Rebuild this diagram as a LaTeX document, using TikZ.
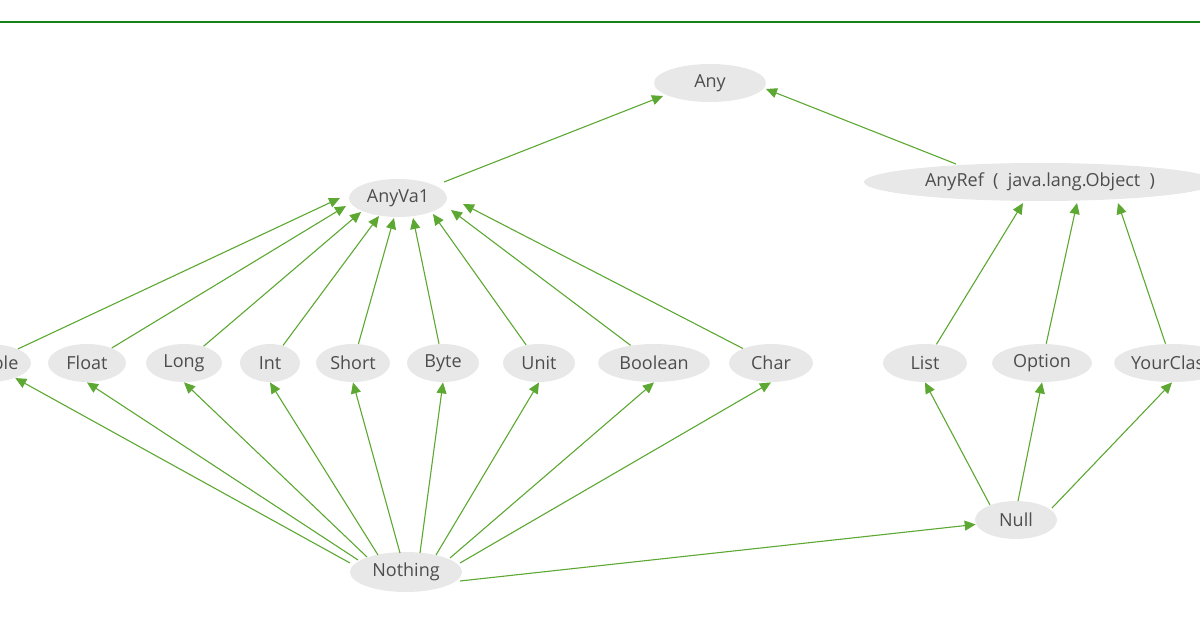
\documentclass[tikz,border=0pt]{standalone}
\usepackage{fontspec}
\setmainfont{Open Sans}
\usetikzlibrary{shapes.geometric,arrows.meta}
\definecolor{edge}{RGB}{92,168,50}
\definecolor{nfill}{RGB}{232,232,232}
\definecolor{ntext}{RGB}{77,77,77}
\definecolor{topline}{RGB}{20,130,20}
\begin{document}
\begin{tikzpicture}[x=0.5pt,y=-0.5pt,
  tnode/.style={ellipse,fill=nfill,draw=none,text=ntext,inner sep=0pt,minimum height=19pt,font=\fontsize{9}{10}\selectfont},
  arr/.style={draw=edge,line width=0.55pt,-{Triangle[length=5.5pt,width=5pt]}}]
\useasboundingbox (0,0) rectangle (1200,630);
\clip (0,0) rectangle (1200,630);
\draw[topline,line width=0.7pt] (0,22) -- (1200,22);
\node[tnode,minimum width=56pt] (any) at (710,83) {Any};
\node[tnode,minimum width=49pt] (anyval) at (398,198) {AnyVa1};
\node[tnode,minimum width=176pt] (anyref) at (1040,182) {AnyRef\ \ (\ \ java.lang.Object\ \ )};
\node[tnode,minimum width=42pt] (double) at (-12,363) {Double};
\node[tnode,minimum width=39pt] (float) at (87,363) {Float};
\node[tnode,minimum width=38pt] (long) at (184,363) {Long};
\node[tnode,minimum width=30pt] (int) at (270,363) {Int};
\node[tnode,minimum width=37pt] (short) at (353,363) {Short};
\node[tnode,minimum width=36pt] (byte) at (443,363) {Byte};
\node[tnode,minimum width=36pt] (unit) at (539,363) {Unit};
\node[tnode,minimum width=56pt] (boolean) at (654,363) {Boolean};
\node[tnode,minimum width=42pt] (char) at (771,363) {Char};
\node[tnode,minimum width=42pt] (list) at (925,363) {List};
\node[tnode,minimum width=50pt] (option) at (1042,363) {Option};
\node[tnode,minimum width=58pt] (yourclass) at (1172,363) {YourClass};
\node[tnode,minimum width=56pt,minimum height=20pt] (nothing) at (406,572) {Nothing};
\node[tnode,minimum width=41pt] (null) at (1016,520) {Null};
% arrow end points on the targets
\coordinate (aA) at (663,96); \coordinate (aB) at (766,89);
\coordinate (v1) at (340,198); \coordinate (v2) at (346,206); \coordinate (v3) at (361,212);
\coordinate (v4) at (379,216); \coordinate (v5) at (394,218); \coordinate (v6) at (413,218);
\coordinate (v7) at (433,214); \coordinate (v8) at (451,210); \coordinate (v9) at (463,204);
\coordinate (r1) at (1023,203); \coordinate (r2) at (1077,203); \coordinate (r3) at (1118,203);
% start points
\coordinate (sV) at (444,182); \coordinate (sR) at (956,164);
\coordinate (n1) at (350,563); \coordinate (n2) at (358,560); \coordinate (n3) at (367,557);
\coordinate (n4) at (378,555); \coordinate (n5) at (400,553); \coordinate (n6) at (420,553);
\coordinate (n7) at (436,555); \coordinate (n8) at (450,558); \coordinate (n9) at (460,563);
\coordinate (nN) at (460,581);
\coordinate (u1) at (990,505); \coordinate (u2) at (1018,501); \coordinate (u3) at (1052,508);
\draw[arr] (sV) -- (aA);
\draw[arr] (sR) -- (aB);
\draw[arr] (double) -- (v1);
\draw[arr] (float) -- (v2);
\draw[arr] (long) -- (v3);
\draw[arr] (int) -- (v4);
\draw[arr] (short) -- (v5);
\draw[arr] (byte) -- (v6);
\draw[arr] (unit) -- (v7);
\draw[arr] (boolean) -- (v8);
\draw[arr] (char) -- (v9);
\draw[arr] (n1) -- (double);
\draw[arr] (n2) -- (float.south);
\draw[arr] (n3) -- (long.south);
\draw[arr] (n4) -- (int.south);
\draw[arr] (n5) -- (short.south);
\draw[arr] (n6) -- (byte.south);
\draw[arr] (n7) -- (unit.south);
\draw[arr] (n8) -- (boolean.south);
\draw[arr] (n9) -- (char.south);
\draw[arr] (list) -- (r1);
\draw[arr] (option) -- (r2);
\draw[arr] (yourclass) -- (r3);
\draw[arr] (u1) -- (list.south);
\draw[arr] (u2) -- (option.south);
\draw[arr] (u3) -- (yourclass.south);
\draw[arr] (nN) -- (null);
\end{tikzpicture}
\end{document}
